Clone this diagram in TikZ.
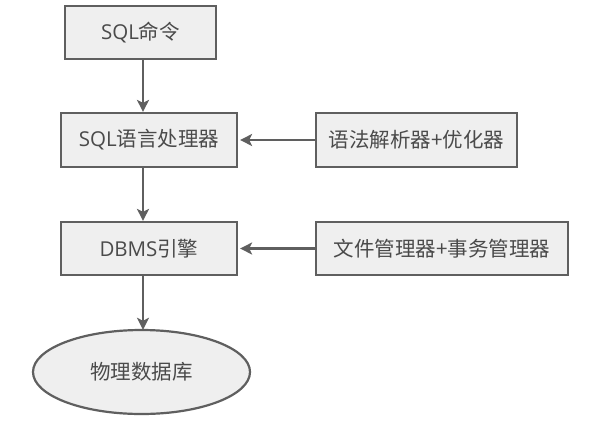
\documentclass[tikz,border=0pt]{standalone}
\usepackage{fontspec}
\setmainfont{Noto Sans CJK SC}
\newfontfamily\latinfont{Open Sans}
\usetikzlibrary{arrows.meta}
\definecolor{boxfill}{HTML}{EFEFEF}
\definecolor{boxline}{HTML}{5F5F5F}
\definecolor{txt}{HTML}{4A4A4A}
\begin{document}
\begin{tikzpicture}[x=1pt,y=-1pt,
  box/.style={draw=boxline,fill=boxfill,line width=2.2pt,inner sep=0pt,text=txt,font=\fontsize{20.5}{24}\selectfont},
  arr/.style={draw=boxline,line width=2.2pt,-{Stealth[length=12pt,width=12pt,inset=3pt]}}]
\useasboundingbox (0,0) rectangle (589,445);
\fill[white] (0,0) rectangle (589,445);
\node[box,minimum width=151pt,minimum height=53pt] (b1) at (140.5,32.5) {{\latinfont SQL}命令};
\node[box,minimum width=176pt,minimum height=54pt] (b2) at (149,140) {{\latinfont SQL}语言处理器};
\node[box,minimum width=176pt,minimum height=53pt] (b3) at (149,248.5) {{\latinfont DBMS}引擎};
\node[box,minimum width=201pt,minimum height=54pt] (r1) at (416.5,140) {语法解析器+优化器};
\node[box,minimum width=252pt,minimum height=53pt] (r2) at (442,248.5) {文件管理器+事务管理器};
\draw[draw=boxline,fill=boxfill,line width=2.2pt] (141.5,372) ellipse [x radius=108.5pt,y radius=42pt];
\node[text=txt,font=\fontsize{20.5}{24}\selectfont,minimum width=217pt,minimum height=84pt,inner sep=0pt] (e) at (141.5,372) {物理数据库};
\coordinate (ax) at (143,0);
\draw[arr] (b1.south -| ax) -- (b2.north -| ax);
\draw[arr] (b2.south -| ax) -- (b3.north -| ax);
\draw[arr] (b3.south -| ax) -- (e.north -| ax);
\draw[arr,shorten >=2pt] (r1.west) -- (b2.east);
\draw[arr,shorten >=2pt] (r2.west) -- (b3.east);
\end{tikzpicture}
\end{document}
